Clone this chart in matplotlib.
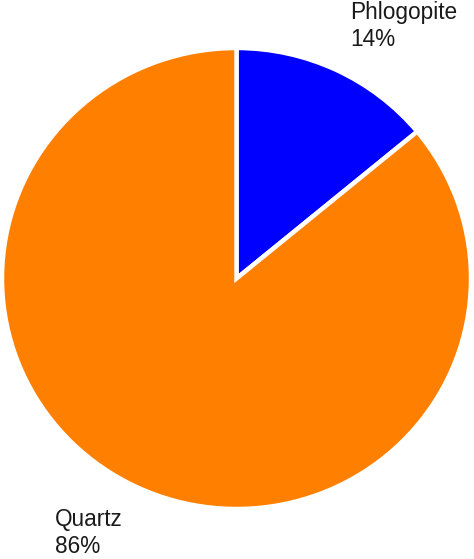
import matplotlib.pyplot as plt

# data
labels = ["Phlogopite", "Quartz"]
shares = [14, 86]
colors = ["#0000FF", "#FF8000"]

W, H = 474, 559
fig = plt.figure(figsize=(W / 100, H / 100), dpi=100)
plt.rcParams['font.family'] = ['Liberation Sans', 'DejaVu Sans']

# axes box in pixels: left, top, right, bottom of the pie
pl, pt, pr, pb = 2, 48, 471, 509
ax = fig.add_axes([pl / W, (H - pb) / H, (pr - pl) / W, (pb - pt) / H])
ax.pie(shares, colors=colors, startangle=90, counterclock=False,
       wedgeprops=dict(edgecolor="white", linewidth=3.2))
ax.set_aspect('auto')
ax.set_xlim(-1, 1)
ax.set_ylim(-1, 1)
ax.axis('off')

# labels (baseline positions in pixels)
label_pos = [(350, 19), (55, 526)]
for name, val, (x, y) in zip(labels, shares, label_pos):
    fig.text(x / W, 1 - y / H, name, fontsize=16.3, color="#1a1a1a", va='baseline')
    fig.text(x / W, 1 - (y + 27) / H, f"{val}%", fontsize=16.3, color="#1a1a1a", va='baseline')

fig.savefig("out.png", dpi=100)
